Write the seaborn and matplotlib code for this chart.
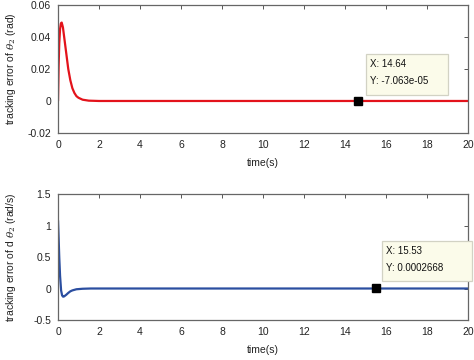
import numpy as np
import pandas as pd
import matplotlib
matplotlib.use("Agg")
import matplotlib.pyplot as plt
import matplotlib.transforms as mtransforms
from matplotlib.patches import Rectangle
import seaborn as sns

# ---- data ----
t_pos = [0, 0.03, 0.06, 0.1, 0.14, 0.18, 0.24, 0.3, 0.4, 0.5, 0.6, 0.7, 0.8, 0.9, 1.0, 1.2, 1.5, 2.0, 4, 8, 12, 16, 20]
err_pos = [0, 0.022, 0.036, 0.045, 0.0485, 0.049, 0.046, 0.040, 0.030, 0.020, 0.013, 0.008, 0.005, 0.003, 0.002, 0.0008, 0.0002, 0.0, 0.0, 0.0, 0.0, 0.0, 0.0]
t_vel = [0, 0.03, 0.06, 0.1, 0.15, 0.2, 0.25, 0.3, 0.4, 0.5, 0.6, 0.7, 0.9, 1.2, 1.6, 2.0, 4, 8, 12, 16, 20]
err_vel = [1.08, 0.8, 0.5, 0.2, -0.03, -0.11, -0.13, -0.125, -0.1, -0.07, -0.045, -0.03, -0.012, -0.004, 0.0, 0.0, 0.0, 0.0, 0.0, 0.0, 0.0]
tip_pos = (14.64, -7.063e-05)
tip_vel = (15.53, 0.0002668)
tip_pos_text = ["X: 14.64", "Y: -7.063e-05"]
tip_vel_text = ["X: 15.53", "Y: 0.0002668"]
xticks = [0, 2, 4, 6, 8, 10, 12, 14, 16, 18, 20]
yticks_pos = [-0.02, 0, 0.02, 0.04, 0.06]
ylabels_pos = ["-0.02", "0", "0.02", "0.04", "0.06"]
yticks_vel = [-0.5, 0, 0.5, 1, 1.5]
ylabels_vel = ["-0.5", "0", "0.5", "1", "1.5"]

sns.set_theme(style="white")
plt.rcParams['font.family'] = ['Liberation Sans', 'DejaVu Sans']
plt.rcParams['mathtext.fontset'] = 'dejavuserif'

fig = plt.figure(figsize=(4.74, 3.6), dpi=100)
ax1 = fig.add_axes([0.1224, 0.6306, 0.8646, 0.3556])
ax2 = fig.add_axes([0.1224, 0.1111, 0.8646, 0.35])

df1 = pd.DataFrame({"t": t_pos, "e": err_pos})
df2 = pd.DataFrame({"t": t_vel, "e": err_vel})
sns.lineplot(data=df1, x="t", y="e", ax=ax1, color="#e3131b", linewidth=1.6)
sns.lineplot(data=df2, x="t", y="e", ax=ax2, color="#2b4ea0", linewidth=1.6)

fs = 7.5
for ax, yt, yl, lab, ylim in [
    (ax1, yticks_pos, ylabels_pos, r"tracking error of $\theta_2$ (rad)", (-0.02, 0.06)),
    (ax2, yticks_vel, ylabels_vel, r"tracking error of d $\theta_2$ (rad/s)", (-0.5, 1.5)),
]:
    ax.set_xlim(0, 20)
    ax.set_ylim(*ylim)
    ax.set_xticks(xticks)
    ax.set_xticklabels([str(v) for v in xticks], fontsize=fs, color="#222222")
    ax.set_yticks(yt)
    ax.set_yticklabels(yl, fontsize=fs, color="#222222")
    ax.tick_params(direction="in", length=3, width=0.7, color="#555555",
                   top=True, right=True, pad=5)
    for s in ax.spines.values():
        s.set_visible(True)
        s.set_color("#666666")
        s.set_linewidth(0.9)
    ax.set_xlabel("time(s)", fontsize=fs, color="#222222", labelpad=6)
    ax.set_ylabel(lab, fontsize=fs, color="#222222")
    ax.grid(False)

ax1.yaxis.set_label_coords(-0.098, 0.5)
ax2.yaxis.set_label_coords(-0.098, 0.5)

# data tips (box offsets in pixels relative to the marker)
for ax, (tx, ty), lines, (dx, dy, w, h) in [
    (ax1, tip_pos, tip_pos_text, (8, 6, 82, 41)),
    (ax2, tip_vel, tip_vel_text, (6, 7, 90, 40)),
]:
    ax.plot([tx], [ty], marker="s", color="black", markersize=6, zorder=6,
            clip_on=False)
    base = mtransforms.offset_copy(ax.transData, fig=fig, x=0, y=0, units="dots")
    tr = ax.transData + mtransforms.ScaledTranslation(0, 0, fig.dpi_scale_trans)
    # rectangle in pixel offsets
    def off(x, y):
        return mtransforms.offset_copy(ax.transData, fig=fig, x=x, y=y, units="dots")
    rect = Rectangle((tx, ty), w / fig.dpi, h / fig.dpi,
                     transform=mtransforms.offset_copy(ax.transData, fig=fig, x=dx, y=dy, units="dots")
                     if False else None)
    # build rectangle via a blended approach: use ScaledTranslation in inches
    trans = fig.dpi_scale_trans + mtransforms.ScaledTranslation(tx, ty, ax.transData)
    rect = Rectangle((dx / fig.dpi, dy / fig.dpi), w / fig.dpi, h / fig.dpi,
                     transform=trans, facecolor="#fbfbea", edgecolor="#d2d2c4",
                     linewidth=0.9, zorder=7, clip_on=False)
    ax.add_patch(rect)
    ax.text((dx + 4) / fig.dpi, (dy + h - 10) / fig.dpi, lines[0], transform=trans,
            fontsize=7, color="#111111", ha="left", va="center", zorder=8, clip_on=False)
    ax.text((dx + 4) / fig.dpi, (dy + h - 27) / fig.dpi, lines[1], transform=trans,
            fontsize=7, color="#111111", ha="left", va="center", zorder=8, clip_on=False)

fig.savefig("out.png", dpi=100)
